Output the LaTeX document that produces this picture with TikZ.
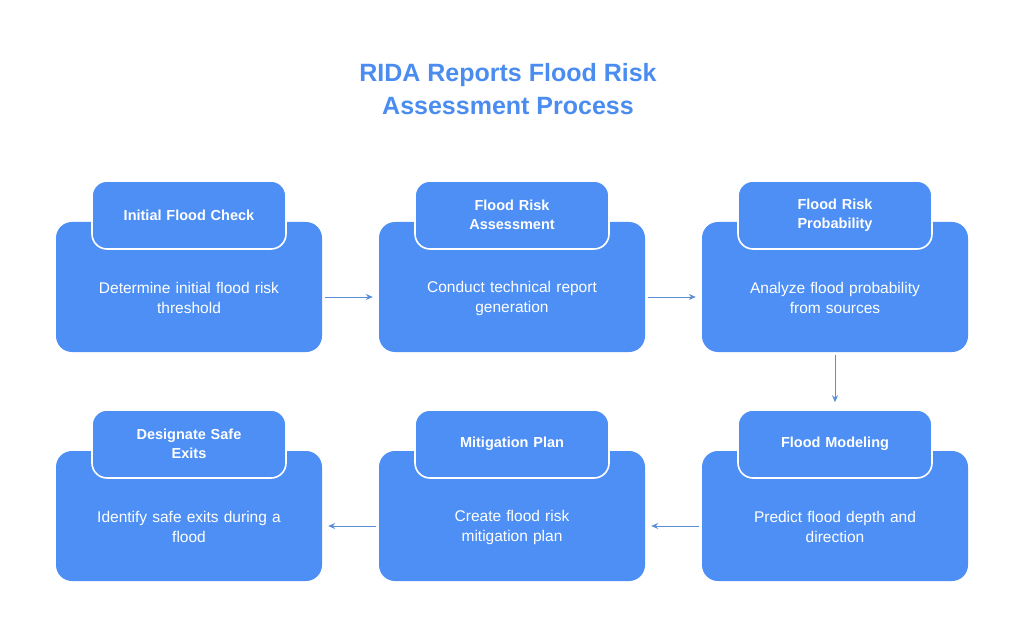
\documentclass[tikz,border=0pt]{standalone}
\usepackage{fontspec}
\setmainfont{Liberation Sans}
\usetikzlibrary{arrows.meta}
\definecolor{bx}{HTML}{4D8FF5}
\definecolor{tt}{HTML}{4A8CF0}
\definecolor{ar}{HTML}{5A8FD8}
\begin{document}
\begin{tikzpicture}[x=1pt,y=-1pt,
 box/.style={fill=bx,rounded corners=16pt,minimum width=266pt,minimum height=130pt,inner sep=0pt},
 tab/.style={fill=bx,draw=white,line width=1.6pt,rounded corners=15pt,minimum width=194pt,minimum height=68pt,inner sep=0pt},
 bt/.style={text=white,font=\fontsize{15.5}{20}\selectfont,align=center,text width=230pt},
 tt/.style={text=white,font=\bfseries\fontsize{14.5}{19}\selectfont,align=center,text width=170pt},
 conn/.style={draw=ar,line width=1pt,-{Stealth[length=7pt,width=6pt]}}]
\useasboundingbox (0,0) rectangle (1024,620);
\node[text=tt,font=\bfseries\fontsize{25}{33}\selectfont,align=center] (title) at (508,89) {RIDA Reports Flood Risk\\Assessment Process};
% top row
\node[box] (b1) at (189,287) {};
\node[tab] (t1) at (189,215) {};
\node[tt] (l1) at (189,215) {Initial Flood Check};
\node[bt] (d1) at (189,298) {Determine initial flood risk\\threshold};
\node[box] (b2) at (512,287) {};
\node[tab] (t2) at (512,215) {};
\node[tt] (l2) at (512,215) {Flood Risk\\Assessment};
\node[bt] (d2) at (512,298) {Conduct technical report\\generation};
\node[box] (b3) at (835,287) {};
\node[tab] (t3) at (835,215) {};
\node[tt] (l3) at (835,215) {Flood Risk\\Probability};
\node[bt] (d3) at (835,298) {Analyze flood probability\\from sources};
% bottom row
\node[box] (b4) at (189,516) {};
\node[tab] (t4) at (189,444) {};
\node[tt] (l4) at (189,444) {Designate Safe\\Exits};
\node[bt] (d4) at (189,527) {Identify safe exits during a\\flood};
\node[box] (b5) at (512,516) {};
\node[tab] (t5) at (512,444) {};
\node[tt] (l5) at (512,444) {Mitigation Plan};
\node[bt] (d5) at (512,527) {Create flood risk\\mitigation plan};
\node[box] (b6) at (835,516) {};
\node[tab] (t6) at (835,444) {};
\node[tt] (l6) at (835,444) {Flood Modeling};
\node[bt] (d6) at (835,527) {Predict flood depth and\\direction};
\draw[conn] ([xshift=3pt,yshift=-10pt]b1.east) -- ([xshift=-6pt,yshift=-10pt]b2.west);
\draw[conn] ([xshift=3pt,yshift=-10pt]b2.east) -- ([xshift=-6pt,yshift=-10pt]b3.west);
\draw[conn] ([yshift=-3pt]b3.south) -- ([yshift=7pt]t6.north);
\draw[conn] ([xshift=-3pt,yshift=-10pt]b6.west) -- ([xshift=6pt,yshift=-10pt]b5.east);
\draw[conn] ([xshift=-3pt,yshift=-10pt]b5.west) -- ([xshift=6pt,yshift=-10pt]b4.east);
\end{tikzpicture}
\end{document}
